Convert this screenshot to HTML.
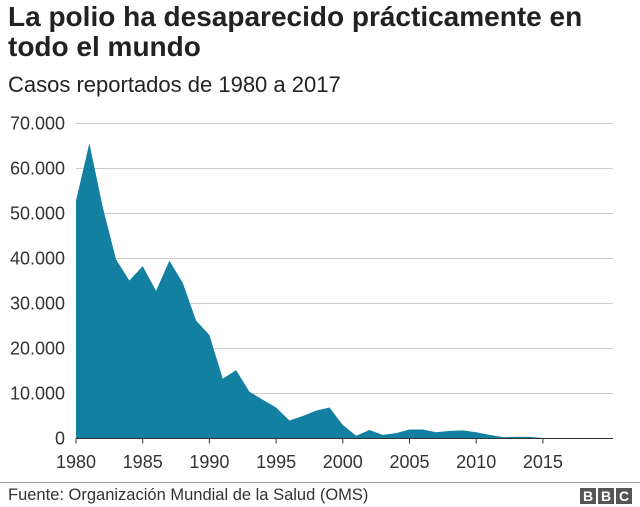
<!DOCTYPE html>
<html><head><meta charset="utf-8"><style>
body{margin:0;width:640px;height:507px;background:#fff;font-family:"Liberation Sans",Arial,sans-serif;overflow:hidden;position:relative}
.t{position:absolute;left:8px;top:2px;font-size:28px;font-weight:bold;line-height:30px;color:#222;letter-spacing:0px}
.s{position:absolute;left:8px;top:72px;font-size:22px;color:#222}
.f{position:absolute;left:8px;top:486px;font-size:16.5px;color:#333}
.bbc{position:absolute;top:488px;display:flex}
.bbc span{width:16px;height:16px;background:#555;color:#fff;font-weight:bold;font-size:14px;text-align:center;line-height:16px;margin-right:2px}
</style></head><body>
<div class="t">La polio ha desaparecido prácticamente en<br>todo el mundo</div>
<div class="s">Casos reportados de 1980 a 2017</div>
<svg id="c" width="640" height="480" style="position:absolute;left:0;top:0"></svg>
<div style="position:absolute;left:0;top:482px;width:640px;height:1px;background:#999"></div>
<div class="f">Fuente: Organización Mundial de la Salud (OMS)</div>
<div class="bbc" style="left:580px"><span>B</span><span>B</span><span>C</span></div>
<script>
const years=[1980,1981,1982,1983,1984,1985,1986,1987,1988,1989,1990,1991,1992,1993,1994,1995,1996,1997,1998,1999,2000,2001,2002,2003,2004,2005,2006,2007,2008,2009,2010,2011,2012,2013,2014,2015,2016,2017];
const cases=[52850,65600,51500,39800,35100,38300,32800,39500,34600,26200,23000,13300,15200,10400,8600,6900,4000,5000,6200,6900,3000,600,1900,800,1200,2000,2000,1400,1700,1800,1400,800,300,400,350,100,40,22];
const yTicks=[0,10000,20000,30000,40000,50000,60000,70000];
const yLabels=["0","10.000","20.000","30.000","40.000","50.000","60.000","70.000"];
const xTicks=[1980,1985,1990,1995,2000,2005,2010,2015];
const NS="http://www.w3.org/2000/svg",svg=document.getElementById('c');
const x=v=>76+(v-1980)*13.34, y=v=>438.5-v*0.0045;
function mk(t,a){const e=document.createElementNS(NS,t);for(const k in a)e.setAttribute(k,a[k]);svg.appendChild(e);return e;}
yTicks.forEach((v,i)=>{
 if(v>0){const g=mk('line',{x1:76,x2:613,y1:y(v),y2:y(v),stroke:'#ccc','stroke-width':1});
 
 }
 const t=mk('text',{x:65,y:y(v)+6,'text-anchor':'end','font-size':18,fill:'#333'});t.textContent=yLabels[i];
 
 
});
let d='M'+x(years[0])+','+y(0);
years.forEach((yr,i)=>d+=' L'+x(yr)+','+y(cases[i]));
d+=' L'+x(years[years.length-1])+','+y(0)+'Z';
const a=mk('path',{d:d,fill:'#1380a1'});


const ax=mk('line',{x1:76,x2:613,y1:y(0),y2:y(0),stroke:'#333','stroke-width':1});


xTicks.forEach(v=>{
 const tk=mk('line',{x1:x(v),x2:x(v),y1:y(0),y2:y(0)+5,stroke:'#333'});
 
 
 const t=mk('text',{x:x(v),y:468,'text-anchor':'middle','font-size':18,fill:'#333'});t.textContent=v;
 
 
});
</script>
</body></html>
